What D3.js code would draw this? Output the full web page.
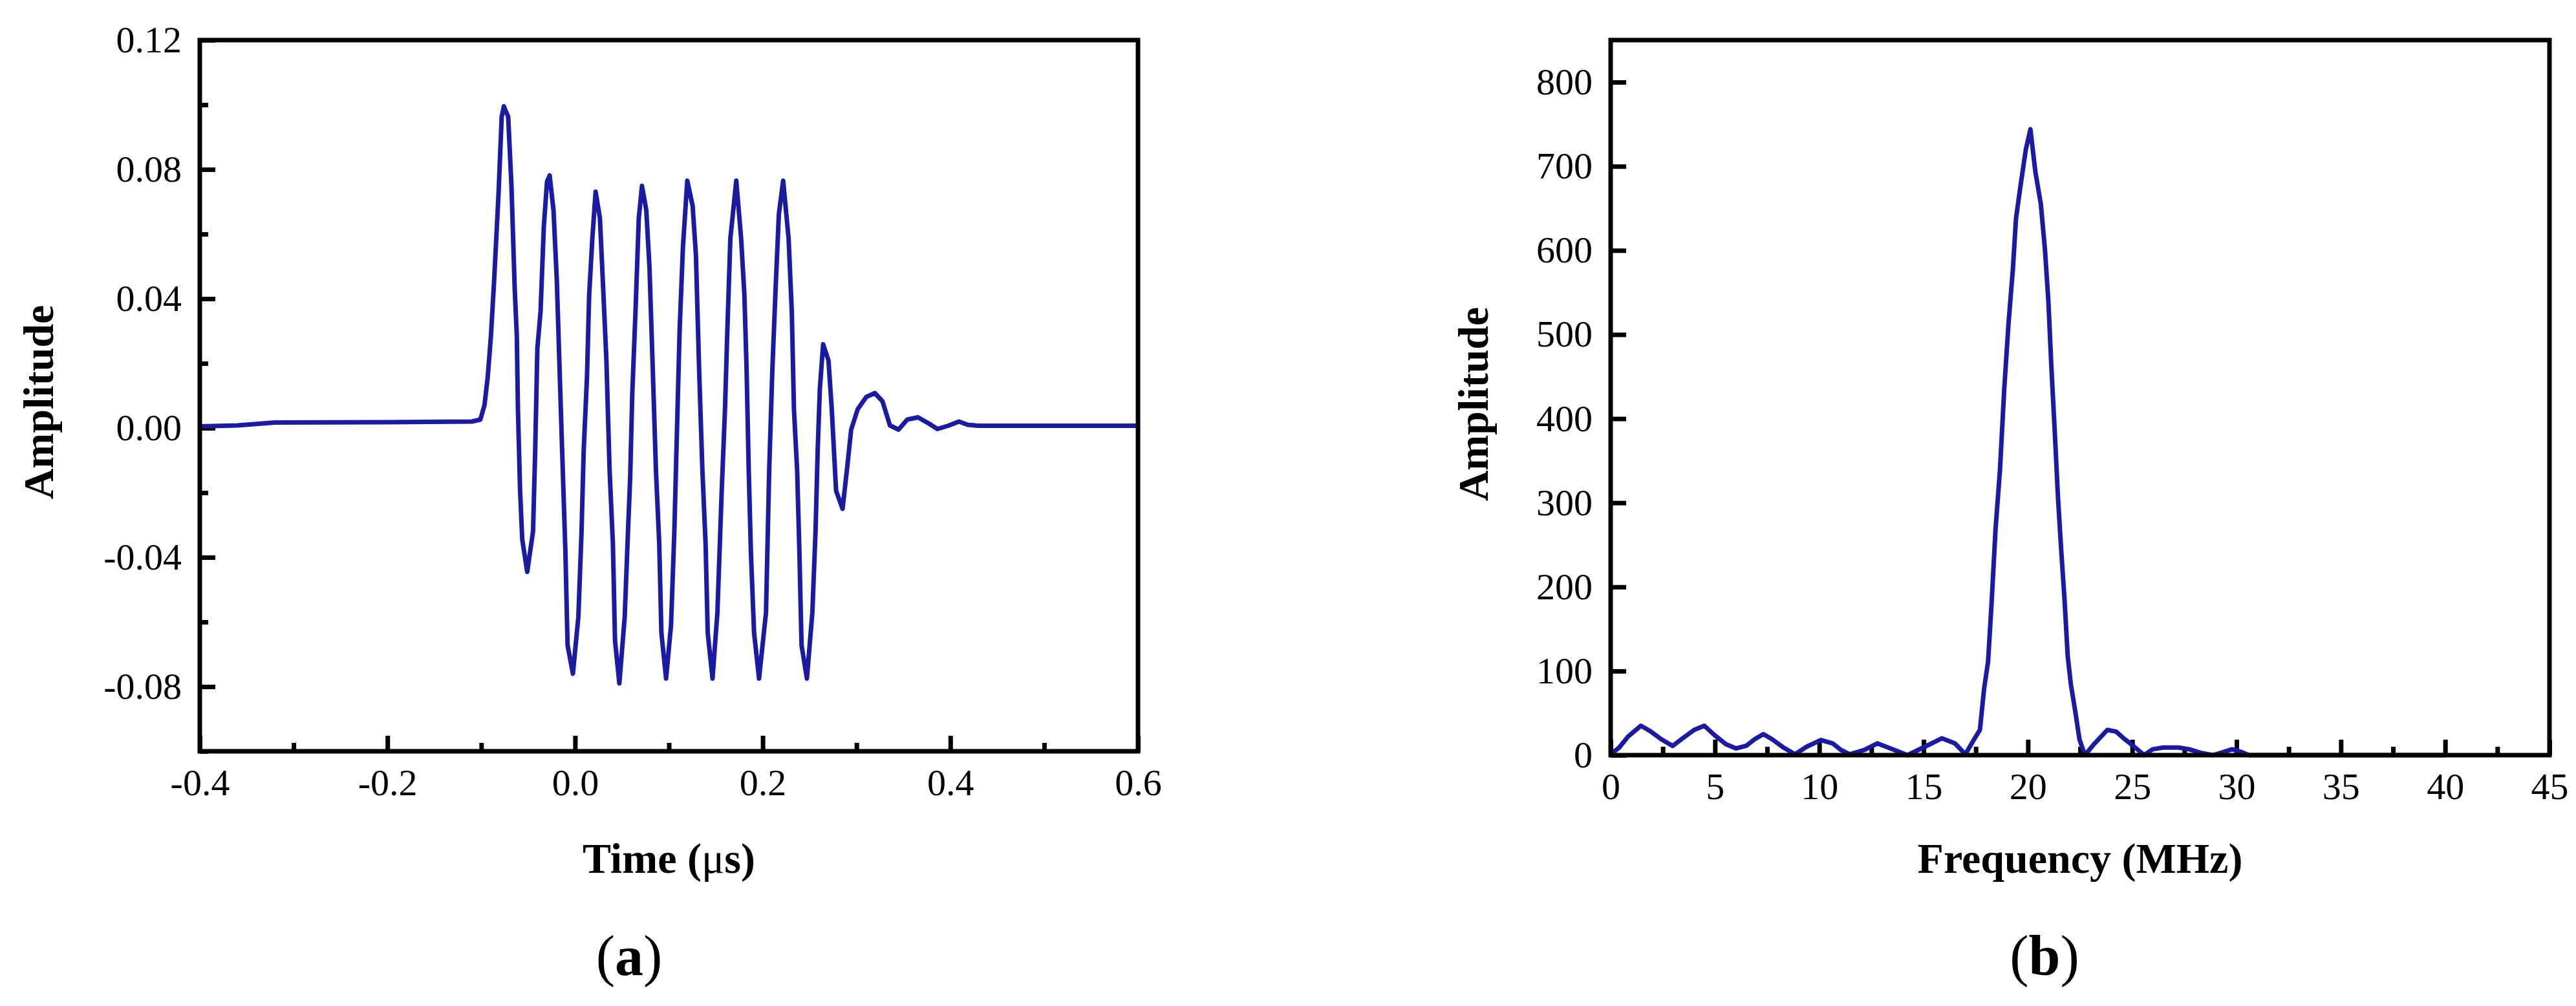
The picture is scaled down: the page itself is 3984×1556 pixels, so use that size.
<!DOCTYPE html>
<html>
<head>
<meta charset="utf-8">
<script src="https://cdn.jsdelivr.net/npm/d3@7"></script>
<style>
  html, body { margin: 0; padding: 0; background: #fff; }
  text { font-family: "Liberation Serif", "Times New Roman", serif; fill: #000; }
</style>
</head>
<body>
<div id="chart"></div>
<script>
// ---- data: panel (a) time signal ----
const timeUs = [
  -0.400, -0.360, -0.320, -0.200, -0.110, -0.101, -0.0966, -0.0931, -0.0897, -0.0862,
  -0.0816, -0.0782, -0.0759, -0.0713, -0.0678, -0.0644, -0.0621, -0.0609, -0.0586, -0.0563,
  -0.0510, -0.0448, -0.0425, -0.0402, -0.0368, -0.0333, -0.0299, -0.0271, -0.0230, -0.0195,
  -0.0172, -0.0138, -0.0103, -0.0080, -0.0023, 0.0035, 0.0069, 0.0092, 0.0127, 0.0150,
  0.0184, 0.0219, 0.0265, 0.0299, 0.0334, 0.0368, 0.0403, 0.0426, 0.0472, 0.0529,
  0.0564, 0.0587, 0.0610, 0.0644, 0.0679, 0.0713, 0.0759, 0.0793, 0.0828, 0.0862,
  0.0897, 0.0920, 0.0970, 0.1023, 0.1058, 0.1092, 0.1115, 0.1150, 0.1196, 0.1253,
  0.1288, 0.1322, 0.1357, 0.1391, 0.1414, 0.1465, 0.1517, 0.1563, 0.1598, 0.1621,
  0.1655, 0.1718, 0.1770, 0.1805, 0.1828, 0.1851, 0.1874, 0.1908, 0.1961, 0.2035,
  0.2069, 0.2103, 0.2138, 0.2172, 0.2218, 0.2276, 0.2310, 0.2333, 0.2367, 0.2391,
  0.2414, 0.2471, 0.2529, 0.2563, 0.2586, 0.2609, 0.2644, 0.2701, 0.2736, 0.2782,
  0.2851, 0.2897, 0.2943, 0.3012, 0.3104, 0.3195, 0.3276, 0.3356, 0.3448, 0.3540,
  0.3655, 0.3770, 0.3862, 0.3977, 0.4092, 0.4184, 0.4299, 0.6000
];
const signalAmp = [
  0.0005, 0.0008, 0.0017, 0.0018, 0.0020, 0.0026, 0.0070, 0.0158, 0.0284, 0.0460,
  0.0724, 0.0963, 0.0995, 0.0963, 0.0749, 0.0435, 0.0284, 0.0058, -0.0194, -0.0345,
  -0.0445, -0.0320, -0.0068, 0.0246, 0.0360, 0.0624, 0.0762, 0.0781, 0.0674, 0.0460,
  0.0246, -0.0068, -0.0383, -0.0672, -0.0760, -0.0584, -0.0320, -0.0068, 0.0158, 0.0410,
  0.0586, 0.0731, 0.0649, 0.0435, 0.0209, -0.0131, -0.0357, -0.0659, -0.0790, -0.0584,
  -0.0320, -0.0156, 0.0108, 0.0360, 0.0649, 0.0749, 0.0674, 0.0498, 0.0183, -0.0131,
  -0.0357, -0.0634, -0.0775, -0.0609, -0.0320, 0.0058, 0.0309, 0.0561, 0.0765, 0.0687,
  0.0536, 0.0183, -0.0131, -0.0357, -0.0634, -0.0775, -0.0571, -0.0194, 0.0058, 0.0284,
  0.0586, 0.0765, 0.0586, 0.0410, 0.0183, -0.0131, -0.0383, -0.0634, -0.0775, -0.0571,
  -0.0131, 0.0183, 0.0435, 0.0661, 0.0765, 0.0586, 0.0360, 0.0058, -0.0131, -0.0383,
  -0.0672, -0.0775, -0.0571, -0.0320, -0.0068, 0.0121, 0.0259, 0.0209, 0.0058, -0.0194,
  -0.0250, -0.0131, -0.0005, 0.0058, 0.0096, 0.0108, 0.0083, 0.0008, -0.0005, 0.0026,
  0.0033, 0.0014, -0.0003, 0.0007, 0.0020, 0.0010, 0.0007, 0.0007
];

// ---- data: panel (b) spectrum ----
const freqMHz = [
  0, 0.41, 0.83, 1.45, 1.93, 2.42, 2.97, 3.45, 4.0, 4.49,
  4.97, 5.52, 6.0, 6.49, 6.91, 7.32, 7.73, 8.29, 8.84, 9.39,
  10.08, 10.64, 11.05, 11.46, 12.15, 12.78, 13.4, 14.23, 15.06, 15.88,
  16.5, 17.0, 17.45, 17.7, 17.9, 18.09, 18.25, 18.45, 18.66, 18.87,
  19.07, 19.28, 19.43, 19.64, 19.9, 20.12, 20.36, 20.62, 20.82, 20.98,
  21.13, 21.29, 21.44, 21.6, 21.75, 21.91, 22.06, 22.27, 22.47, 22.73,
  23.2, 23.81, 24.23, 24.64, 25.05, 25.57, 25.98, 26.49, 27.22, 27.73,
  28.25, 28.87, 29.28, 29.79, 30.2, 30.6, 40
];
const spectrumAmp = [
  1, 9, 22, 35, 28, 19, 11, 20, 30, 35,
  24, 13, 8, 11, 19, 25, 19, 9, 1, 10,
  18, 14, 6, 1, 6, 14, 8, 0, 10, 20,
  14, 1, 20, 30, 79, 111, 177, 269, 339, 437,
  513, 578, 638, 676, 720, 744, 693, 655, 600, 540,
  459, 383, 307, 242, 187, 117, 84, 52, 19, 0,
  14, 30, 28, 19, 11, 0, 7, 9, 9, 7,
  3, 0, 3, 7, 4, 0, 0
];

// ---- ticks ----
const timeMajor = [-0.4, -0.2, 0.0, 0.2, 0.4, 0.6];
const timeMinor = [-0.3, -0.1, 0.1, 0.3, 0.5];
const sigMajor = [-0.08, -0.04, 0.00, 0.04, 0.08, 0.12];
const sigMinor = [-0.10, -0.06, -0.02, 0.02, 0.06, 0.10];
const freqMajor = [0, 5, 10, 15, 20, 25, 30, 35, 40, 45];
const freqMinor = [2.5, 7.5, 12.5, 17.5, 22.5, 27.5, 32.5, 37.5, 42.5];
const specMajor = [0, 100, 200, 300, 400, 500, 600, 700, 800];

const W = 3984, H = 1556;
const LINE = '#1a1aa2';

const svg = d3.select('#chart').append('svg')
  .attr('width', W).attr('height', H)
  .attr('viewBox', `0 0 ${W} ${H}`);
svg.append('rect').attr('width', W).attr('height', H).attr('fill', '#fff');

function panel(o) {
  const x = d3.scaleLinear().domain(o.xDomain).range([o.left, o.right]);
  const y = d3.scaleLinear().domain(o.yDomain).range([o.bottom, o.top]);
  const g = svg.append('g');

  // minor ticks first
  g.append('g').attr('transform', `translate(0,${o.bottom})`)
    .call(d3.axisBottom(x).tickValues(o.xMinor).tickSize(-13).tickFormat(''));
  if (o.yMinor) {
    g.append('g').attr('transform', `translate(${o.left},0)`)
      .call(d3.axisLeft(y).tickValues(o.yMinor).tickSize(-13).tickFormat(''));
  }
  g.append('g').attr('transform', `translate(0,${o.bottom})`)
    .call(d3.axisBottom(x).tickValues(o.xMajor).tickSize(-24).tickPadding(27).tickFormat(o.xFmt));
  g.append('g').attr('transform', `translate(${o.left},0)`)
    .call(d3.axisLeft(y).tickValues(o.yMajor).tickSize(-24).tickPadding(28).tickFormat(o.yFmt));

  g.selectAll('.domain').remove();
  g.selectAll('.tick line').attr('stroke', '#000').attr('stroke-width', 7);
  g.selectAll('.tick text')
    .attr('font-size', 58)
    .style('font-family', '"Liberation Serif", "Times New Roman", serif')
    .attr('fill', '#000');

  // data line
  const pts = o.xs.map((v, i) => [v, o.ys[i]]);
  g.append('path')
    .datum(pts)
    .attr('fill', 'none')
    .attr('stroke', LINE)
    .attr('stroke-width', 7)
    .attr('stroke-linejoin', 'round')
    .attr('d', d3.line().x(d => x(d[0])).y(d => y(d[1])));

  // frame
  g.append('rect')
    .attr('x', o.left).attr('y', o.top)
    .attr('width', o.right - o.left).attr('height', o.bottom - o.top)
    .attr('fill', 'none').attr('stroke', '#000').attr('stroke-width', 7);

  // axis titles
  const xt = g.append('text')
    .attr('x', (o.left + o.right) / 2).attr('y', 1350)
    .attr('text-anchor', 'middle').attr('font-size', 66).attr('font-weight', 'bold');
  o.xTitle.forEach(p => xt.append('tspan').attr('font-weight', p.w).text(p.t));
  g.append('text')
    .attr('transform', `translate(${o.yTitleX},${(o.top + o.bottom) / 2 + 10}) rotate(-90)`)
    .attr('text-anchor', 'middle').attr('font-size', 66).attr('font-weight', 'bold')
    .text(o.yTitle);

  // panel label
  const lab = g.append('text')
    .attr('x', o.labelX).attr('y', 1508)
    .attr('text-anchor', 'middle').attr('font-size', 88);
  lab.append('tspan').text('(');
  lab.append('tspan').attr('font-weight', 'bold').text(o.label);
  lab.append('tspan').text(')');
}

panel({
  left: 309, right: 1760, top: 62, bottom: 1162,
  xDomain: [-0.4, 0.6], yDomain: [-0.10, 0.12],
  xMajor: timeMajor, xMinor: timeMinor, yMajor: sigMajor, yMinor: sigMinor,
  xFmt: d => d.toFixed(1), yFmt: d => d.toFixed(2),
  xs: timeUs, ys: signalAmp,
  xTitle: [{t: 'Time (', w: 'bold'}, {t: 'μ', w: 'normal'}, {t: 's)', w: 'bold'}],
  yTitle: 'Amplitude', yTitleX: 82,
  label: 'a', labelX: 973
});

panel({
  left: 2491, right: 3943, top: 62, bottom: 1168,
  xDomain: [0, 45], yDomain: [0, 850],
  xMajor: freqMajor, xMinor: freqMinor, yMajor: specMajor, yMinor: null,
  xFmt: d3.format('d'), yFmt: d3.format('d'),
  xs: freqMHz, ys: spectrumAmp,
  xTitle: [{t: 'Frequency (MHz)', w: 'bold'}],
  yTitle: 'Amplitude', yTitleX: 2301,
  label: 'b', labelX: 3162
});
</script>
</body>
</html>
